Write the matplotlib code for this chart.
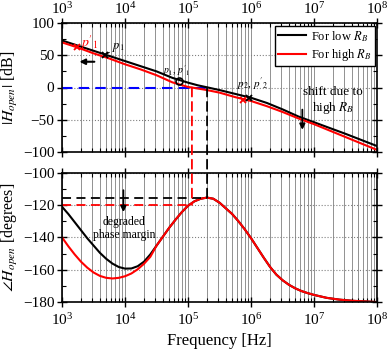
import numpy as np
import matplotlib
matplotlib.use('Agg')
import matplotlib.pyplot as plt
from matplotlib import ticker
from matplotlib.patches import ConnectionPatch

plt.rcParams['font.family'] = ['Liberation Serif', 'DejaVu Serif']
plt.rcParams['mathtext.fontset'] = 'stix'

# ---- data (log10 of frequency) ----
mag_low_logf = [3.0, 3.25, 3.5, 3.75, 4.0, 4.25, 4.5, 4.75, 5.0, 5.15, 5.3, 5.5, 5.75, 6.0, 6.25, 6.5, 6.75, 7.0, 7.5, 8.0]
mag_low_db = [73, 65, 57, 49, 41, 33, 25, 15, 7.5, 3.5, 0.3, -4, -10, -16, -24, -34, -45, -54, -72, -91]

mag_high_logf = [3.0, 3.25, 3.5, 3.75, 4.0, 4.25, 4.5, 4.75, 5.0, 5.06, 5.3, 5.5, 5.75, 6.0, 6.25, 6.5, 6.75, 7.0, 7.5, 8.0]
mag_high_db = [70, 62, 53, 45, 36, 28, 19, 8, 0.8, 0, -4, -8, -15, -21, -29, -38, -48, -57, -77, -97]

ph_logf_tail = [4.5, 4.6, 4.7, 4.8, 4.9, 5.0, 5.1, 5.2, 5.3, 5.4, 5.5, 5.6, 5.7, 5.8, 5.9, 6.0, 6.1, 6.2, 6.3, 6.4,
                6.5, 6.6, 6.7, 6.8, 6.9, 7.0, 7.2, 7.4, 7.6, 7.8, 8.0]
ph_deg_tail = [-145, -139.5, -134, -129, -124.3, -120.3, -117.6, -116, -115.3, -116, -118.5, -122, -125.5, -130,
               -135, -140.5, -146.5, -152.5, -158.2, -163, -166.5, -169.3, -171.5, -173.2, -174.5, -175.6,
               -177.4, -178.5, -179.2, -179.6, -180]

ph_low_logf = [3.0, 3.1, 3.2, 3.3, 3.4, 3.5, 3.6, 3.7, 3.8, 3.9, 4.0, 4.1, 4.2, 4.3, 4.4] + ph_logf_tail
ph_low_deg = [-121, -125.5, -130.5, -135.5, -140.5, -145, -149.5, -153.2, -156.2, -158.3, -159.3, -159.2,
              -157.8, -155, -150.5] + ph_deg_tail

ph_high_logf = [3.0, 3.1, 3.2, 3.3, 3.4, 3.5, 3.6, 3.7, 3.8, 3.9, 4.0, 4.1, 4.2, 4.3, 4.4] + ph_logf_tail
ph_high_deg = [-140, -145.5, -150.5, -155, -158.7, -161.7, -163.8, -165, -165.4, -165, -164, -162.3,
               -159.7, -156.3, -152] + ph_deg_tail

f_cross_low, pm_low = 2.0e5, -115.3
f_cross_high, pm_high = 1.15e5, -119.8

p1 = (4.8e3, 51)
p1h = (1.7e3, 63)
p1c = (7.2e4, 10)
p2 = (9.4e5, -16)
p2h = (7.4e5, -19)

fig = plt.figure(figsize=(3.88, 3.5), dpi=100)
ax1 = fig.add_axes([0.160, 0.566, 0.812, 0.368])
ax2 = fig.add_axes([0.160, 0.137, 0.812, 0.369])

for ax in (ax1, ax2):
    ax.set_xscale('log')
    ax.set_xlim(1e3, 1e8)
    ax.xaxis.set_minor_locator(ticker.LogLocator(base=10, subs=np.arange(2, 10)))
    ax.xaxis.set_minor_formatter(ticker.NullFormatter())
    ax.grid(which='both', axis='x', color='gray', linestyle='-', linewidth=0.6)
    ax.grid(which='major', axis='y', color='gray', linestyle=':', linewidth=0.8)
    ax.tick_params(which='major', direction='inout', length=7, width=1, labelsize=11,
                   top=True, bottom=True, left=True, right=True)
    ax.tick_params(which='minor', direction='in', length=3, width=0.8,
                   top=True, bottom=True, left=True, right=True)
    ax.tick_params(axis='y', which='major', pad=2)
    for s in ax.spines.values():
        s.set_linewidth(1.2)
    ax.set_axisbelow(True)

# magnitude
ax1.plot(10 ** np.array(mag_low_logf), mag_low_db, color='black', lw=1.5, label=r'For low $R_B$')
ax1.plot(10 ** np.array(mag_high_logf), mag_high_db, color='red', lw=1.5, label=r'For high $R_B$')
ax1.set_ylim(-100, 100)
ax1.yaxis.set_major_locator(ticker.MultipleLocator(50))
ax1.yaxis.set_minor_locator(ticker.MultipleLocator(25))
ax1.tick_params(axis='x', which='both', labeltop=True, labelbottom=False, pad=1)
ax1.set_ylabel(r'$|H_{open}|$ [dB]', fontsize=11.5)
ax1.yaxis.set_label_coords(-0.132, 0.5)
ax1.plot([1e3, f_cross_low], [0, 0], color='blue', lw=1.5, ls=(0, (5, 3)), zorder=1.5)

ax1.plot(*p1h, marker='x', color='red', ms=5, mew=1.3)
ax1.plot(*p1, marker='x', color='black', ms=5, mew=1.3)
ax1.plot(*p1c, marker='o', mfc='none', mec='black', ms=5, mew=1.2)
ax1.plot(*p2h, marker='x', color='red', ms=5, mew=1.3)
ax1.plot(*p2, marker='x', color='black', ms=5, mew=1.3)

ax1.text(1.9e3, 70, r"$p'_1$", color='red', fontsize=10, ha='left', va='center')
ax1.annotate(r'$p_1$', xy=p1, xytext=(6.2e3, 62), fontsize=9, ha='left', va='center',
             arrowprops=dict(arrowstyle='-', color='black', lw=0.8, shrinkA=0, shrinkB=1))
ax1.annotate('', xy=(1.7e3, 40), xytext=(3.6e3, 40),
             arrowprops=dict(arrowstyle='-|>', color='black', lw=1.5, mutation_scale=8))
ax1.text(6.5e4, 15, r"$p_1$, $p'_1$", fontsize=7, ha='center', va='bottom')
ax1.text(1.07e6, 4, r"$p_2$, $p'_2$", fontsize=8, ha='center', va='center')
ax1.text(2.0e7, -21, 'shift due to\nhigh $R_B$', fontsize=9.5, ha='center', va='center',
         linespacing=1.1)
ax1.annotate('', xy=(6.5e6, -70), xytext=(6.5e6, -30),
             arrowprops=dict(arrowstyle='-|>', color='black', lw=1.3, mutation_scale=8))

leg = ax1.legend(loc='upper right', fontsize=9, frameon=True, fancybox=False,
                 edgecolor='black', framealpha=1, borderaxespad=0.2,
                 handlelength=2.2, handletextpad=0.4, labelspacing=0.3, borderpad=0.25)
leg.get_frame().set_linewidth(1.0)

# phase
ax2.plot(10 ** np.array(ph_low_logf), ph_low_deg, color='black', lw=1.5)
ax2.plot(10 ** np.array(ph_high_logf), ph_high_deg, color='red', lw=1.5)
ax2.set_ylim(-180, -100)
ax2.yaxis.set_major_locator(ticker.MultipleLocator(20))
ax2.yaxis.set_minor_locator(ticker.MultipleLocator(10))
ax2.set_ylabel(r'$\angle H_{open}$ [degrees]', fontsize=11.5)
ax2.yaxis.set_label_coords(-0.132, 0.5)
ax2.set_xlabel('Frequency [Hz]', fontsize=12, labelpad=4)

ax2.plot([1e3, f_cross_low], [pm_low, pm_low], color='black', lw=1.3, ls=(0, (5, 3)))
ax2.plot([1e3, f_cross_high], [pm_high, pm_high], color='red', lw=1.3, ls=(0, (5, 3)))
ax2.text(9.6e3, -134.5, 'degraded\nphase margin', fontsize=8.5, ha='center', va='center',
         linespacing=1.2)
ax2.annotate('', xy=(9.4e3, -126), xytext=(9.4e3, -109),
             arrowprops=dict(arrowstyle='-|>', color='black', lw=1.3, mutation_scale=8))

# dashed verticals linking the crossover frequency to the phase margin
for fc, pm, col in [(f_cross_low, pm_low, 'black'), (f_cross_high, pm_high, 'red')]:
    con = ConnectionPatch(xyA=(fc, 0), coordsA=ax1.transData,
                          xyB=(fc, pm), coordsB=ax2.transData,
                          color=col, lw=1.3, linestyle=(0, (5, 3)))
    fig.add_artist(con)

fig.savefig('out.png', dpi=100)
